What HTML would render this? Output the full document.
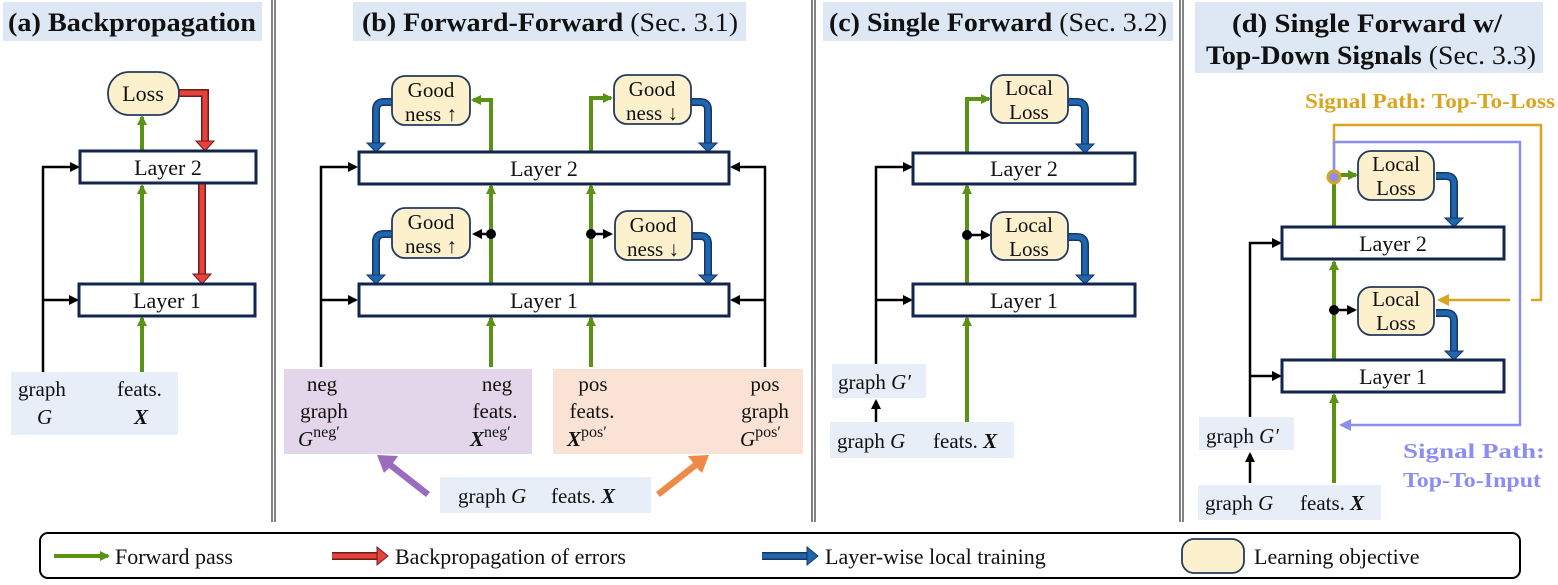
<!DOCTYPE html>
<html><head><meta charset="utf-8"><style>
html,body{margin:0;padding:0;background:#fff}
svg{display:block}
text{font-family:"Liberation Serif",serif;fill:#111}
</style></head><body>
<svg width="1558" height="585" viewBox="0 0 1558 585" xmlns="http://www.w3.org/2000/svg">
<defs>
<marker id="g" markerWidth="10" markerHeight="10" refX="8" refY="5" orient="auto" markerUnits="userSpaceOnUse"><path d="M0,0 L10,5 L0,10 Z" fill="#5a9216"/></marker>
<marker id="k" markerWidth="10" markerHeight="10" refX="8" refY="5" orient="auto" markerUnits="userSpaceOnUse"><path d="M0,0 L10,5 L0,10 Z" fill="#000"/></marker>
<marker id="y" markerWidth="12" markerHeight="12" refX="10" refY="6" orient="auto" markerUnits="userSpaceOnUse"><path d="M0,0 L12,6 L0,12 Z" fill="#d9a520"/></marker>
<marker id="p" markerWidth="12" markerHeight="12" refX="10" refY="6" orient="auto" markerUnits="userSpaceOnUse"><path d="M0,0 L12,6 L0,12 Z" fill="#8b8ef0"/></marker>
</defs>

<g stroke="#333" stroke-width="1.2">
<line x1="272" y1="0" x2="272" y2="522"/><line x1="275" y1="0" x2="275" y2="522"/>
<line x1="812" y1="0" x2="812" y2="522"/><line x1="815" y1="0" x2="815" y2="522"/>
<line x1="1180" y1="0" x2="1180" y2="522"/><line x1="1183" y1="0" x2="1183" y2="522"/>
</g>

<rect x="3" y="2" width="259" height="39" fill="#dde8f4"/>
<text x="8" y="31" font-size="26" font-weight="bold" textLength="248" lengthAdjust="spacingAndGlyphs">(a) Backpropagation</text>
<rect x="353" y="2" width="393" height="39" fill="#dde8f4"/>
<text x="362" y="31" font-size="26" textLength="376" lengthAdjust="spacingAndGlyphs"><tspan font-weight="bold">(b) Forward-Forward</tspan> (Sec. 3.1)</text>
<rect x="823" y="2" width="350" height="39" fill="#dde8f4"/>
<text x="829" y="31" font-size="26" textLength="338" lengthAdjust="spacingAndGlyphs"><tspan font-weight="bold">(c) Single Forward</tspan> (Sec. 3.2)</text>
<rect x="1195" y="2" width="348" height="71" fill="#dde8f4"/>
<text x="1232" y="32" font-size="26" font-weight="bold" textLength="270" lengthAdjust="spacingAndGlyphs">(d) Single Forward w/</text>
<text x="1206" y="64" font-size="26" textLength="330" lengthAdjust="spacingAndGlyphs"><tspan font-weight="bold">Top-Down Signals</tspan> (Sec. 3.3)</text>

<!-- panel a -->
<g fill="none">
<path d="M43,378 V167 H78" stroke="#000" stroke-width="2.5" marker-end="url(#k)"/>
<path d="M43,300 H77" stroke="#000" stroke-width="2.5" marker-end="url(#k)"/>
<path d="M142,372 V318" stroke="#5a9216" stroke-width="4" marker-end="url(#g)"/>
<path d="M142,284 V186" stroke="#5a9216" stroke-width="4" marker-end="url(#g)"/>
<path d="M142,151 V117" stroke="#5a9216" stroke-width="4" marker-end="url(#g)"/>
</g>
<path d="M178,93 H205 V143" fill="none" stroke="#6b1c1c" stroke-width="8"/>
<path d="M178,93 H205 V143" fill="none" stroke="#e8433a" stroke-width="5"/>
<path d="M196,141 L214,141 L205,151 Z" fill="#e8433a" stroke="#6b1c1c" stroke-width="1"/>
<path d="M202,184 V275" fill="none" stroke="#6b1c1c" stroke-width="8"/>
<path d="M202,184 V275" fill="none" stroke="#e8433a" stroke-width="5"/>
<path d="M193,274 L211,274 L202,284 Z" fill="#e8433a" stroke="#6b1c1c" stroke-width="1"/>
<rect x="108" y="72" width="71" height="43" rx="21" fill="#fdf0cc" stroke="#243a5e" stroke-width="1.8"/>
<text x="143" y="101" font-size="22" text-anchor="middle">Loss</text>
<rect x="80" y="151" width="176" height="32" fill="#fff" stroke="#10264d" stroke-width="3"/>
<text x="168" y="175" font-size="22" text-anchor="middle">Layer 2</text>
<rect x="79" y="284" width="176" height="32" fill="#fff" stroke="#10264d" stroke-width="3"/>
<text x="167" y="308" font-size="22" text-anchor="middle">Layer 1</text>
<rect x="11" y="372" width="167" height="63" fill="#e8eef7"/>
<text x="18" y="396" font-size="21">graph</text>
<text x="37" y="424" font-size="21" font-style="italic">G</text>
<text x="117" y="396" font-size="21">feats.</text>
<text x="134" y="424" font-size="21" font-style="italic" font-weight="bold">X</text>

<!-- panel b -->
<rect x="284" y="369" width="248" height="85" fill="#e3d6eb"/>
<rect x="553" y="369" width="250" height="85" fill="#fae3d4"/>
<rect x="440" y="477" width="211" height="36" fill="#e8eef7"/>
<g fill="none">
<path d="M321,367 V167 H356" stroke="#000" stroke-width="2.5" marker-end="url(#k)"/>
<path d="M321,300 H356" stroke="#000" stroke-width="2.5" marker-end="url(#k)"/>
<path d="M765,367 V167 H732" stroke="#000" stroke-width="2.5" marker-end="url(#k)"/>
<path d="M765,300 H732" stroke="#000" stroke-width="2.5" marker-end="url(#k)"/>
<path d="M491,367 V318" stroke="#5a9216" stroke-width="4" marker-end="url(#g)"/>
<path d="M591,367 V318" stroke="#5a9216" stroke-width="4" marker-end="url(#g)"/>
<path d="M491,284 V186" stroke="#5a9216" stroke-width="4" marker-end="url(#g)"/>
<path d="M591,284 V186" stroke="#5a9216" stroke-width="4" marker-end="url(#g)"/>
<path d="M491,151 V100 H473" stroke="#5a9216" stroke-width="4" marker-end="url(#g)"/>
<path d="M591,151 V98 H611" stroke="#5a9216" stroke-width="4" marker-end="url(#g)"/>
<path d="M491,234 H474" stroke="#000" stroke-width="2.5" marker-end="url(#k)"/>
<path d="M591,234 H611" stroke="#000" stroke-width="2.5" marker-end="url(#k)"/>
</g>
<circle cx="491" cy="234" r="5" fill="#000"/>
<circle cx="591" cy="234" r="5" fill="#000"/>
<path d="M430,492 L393,463 L398,456 L377,455 L384,473 L389,468 L426,497 Z" fill="#9b6bbf"/>
<path d="M656,492 L693,463 L688,456 L709,455 L702,473 L697,468 L660,497 Z" fill="#ee8a45"/>
<g fill="none">
<path d="M392,102 H384 Q376,102 376,110 V144" stroke="#17375f" stroke-width="8"/>
<path d="M392,102 H384 Q376,102 376,110 V144" stroke="#1f66b0" stroke-width="5"/>
<path d="M392,234 H384 Q376,234 376,242 V276" stroke="#17375f" stroke-width="8"/>
<path d="M392,234 H384 Q376,234 376,242 V276" stroke="#1f66b0" stroke-width="5"/>
<path d="M690,102 H700 Q708,102 708,110 V144" stroke="#17375f" stroke-width="8"/>
<path d="M690,102 H700 Q708,102 708,110 V144" stroke="#1f66b0" stroke-width="5"/>
<path d="M690,236 H700 Q708,236 708,244 V276" stroke="#17375f" stroke-width="8"/>
<path d="M690,236 H700 Q708,236 708,244 V276" stroke="#1f66b0" stroke-width="5"/>
</g>
<g fill="#1f66b0" stroke="#17375f" stroke-width="1">
<path d="M367,143 L385,143 L376,152 Z"/><path d="M367,275 L385,275 L376,284 Z"/>
<path d="M699,143 L717,143 L708,152 Z"/><path d="M699,275 L717,275 L708,284 Z"/>
</g>
<g fill="#fdf0cc" stroke="#243a5e" stroke-width="1.8">
<rect x="392" y="76" width="78" height="49" rx="13"/>
<rect x="614" y="75" width="77" height="49" rx="13"/>
<rect x="392" y="208" width="78" height="50" rx="13"/>
<rect x="615" y="211" width="77" height="49" rx="13"/>
</g>
<g font-size="21" text-anchor="middle">
<text x="431" y="97">Good</text><text x="431" y="121">ness ↑</text>
<text x="652" y="96">Good</text><text x="652" y="120">ness ↓</text>
<text x="431" y="229">Good</text><text x="431" y="253">ness ↑</text>
<text x="653" y="232">Good</text><text x="653" y="256">ness ↓</text>
</g>
<rect x="359" y="152" width="370" height="32" fill="#fff" stroke="#10264d" stroke-width="3"/>
<text x="544" y="176" font-size="22" text-anchor="middle">Layer 2</text>
<rect x="359" y="284" width="370" height="32" fill="#fff" stroke="#10264d" stroke-width="3"/>
<text x="544" y="308" font-size="22" text-anchor="middle">Layer 1</text>
<g font-size="21">
<text x="322" y="391" text-anchor="middle">neg</text>
<text x="324" y="418" text-anchor="middle">graph</text>
<text x="298" y="446" font-style="italic">G<tspan font-style="normal" font-size="16" dy="-9">neg′</tspan></text>
<text x="497" y="391" text-anchor="middle">neg</text>
<text x="495" y="418" text-anchor="middle">feats.</text>
<text x="470" y="446" font-style="italic" font-weight="bold">X<tspan font-style="normal" font-weight="normal" font-size="16" dy="-9">neg′</tspan></text>
<text x="593" y="391" text-anchor="middle">pos</text>
<text x="592" y="418" text-anchor="middle">feats.</text>
<text x="567" y="446" font-style="italic" font-weight="bold">X<tspan font-style="normal" font-weight="normal" font-size="16" dy="-9">pos′</tspan></text>
<text x="765" y="391" text-anchor="middle">pos</text>
<text x="765" y="418" text-anchor="middle">graph</text>
<text x="740" y="446" font-style="italic">G<tspan font-style="normal" font-size="16" dy="-9">pos′</tspan></text>
<text x="458" y="503">graph <tspan font-style="italic">G</tspan></text>
<text x="551" y="503">feats. <tspan font-style="italic" font-weight="bold">X</tspan></text>
</g>

<!-- panel c -->
<rect x="832" y="364" width="94" height="34" fill="#e8eef7"/>
<rect x="830" y="422" width="184" height="36" fill="#e8eef7"/>
<g fill="none">
<path d="M876,364 V167 H911" stroke="#000" stroke-width="2.5" marker-end="url(#k)"/>
<path d="M876,300 H911" stroke="#000" stroke-width="2.5" marker-end="url(#k)"/>
<path d="M876,422 V401" stroke="#000" stroke-width="2.5" marker-end="url(#k)"/>
<path d="M967,422 V318" stroke="#5a9216" stroke-width="4" marker-end="url(#g)"/>
<path d="M967,284 V186" stroke="#5a9216" stroke-width="4" marker-end="url(#g)"/>
<path d="M967,152 V99 H989" stroke="#5a9216" stroke-width="4" marker-end="url(#g)"/>
<path d="M967,235 H989" stroke="#000" stroke-width="2.5" marker-end="url(#k)"/>
<path d="M1066,102 H1077 Q1085,102 1085,110 V145" stroke="#17375f" stroke-width="8"/>
<path d="M1066,102 H1077 Q1085,102 1085,110 V145" stroke="#1f66b0" stroke-width="5"/>
<path d="M1066,237 H1077 Q1085,237 1085,245 V276" stroke="#17375f" stroke-width="8"/>
<path d="M1066,237 H1077 Q1085,237 1085,245 V276" stroke="#1f66b0" stroke-width="5"/>
</g>
<circle cx="967" cy="235" r="5" fill="#000"/>
<g fill="#1f66b0" stroke="#17375f" stroke-width="1">
<path d="M1076,144 L1094,144 L1085,153 Z"/><path d="M1076,275 L1094,275 L1085,284 Z"/>
</g>
<g fill="#fdf0cc" stroke="#243a5e" stroke-width="1.8">
<rect x="991" y="75" width="77" height="48" rx="13"/>
<rect x="991" y="212" width="77" height="48" rx="13"/>
</g>
<g font-size="21" text-anchor="middle">
<text x="1029" y="95">Local</text><text x="1029" y="119">Loss</text>
<text x="1029" y="232">Local</text><text x="1029" y="256">Loss</text>
</g>
<rect x="913" y="153" width="222" height="31" fill="#fff" stroke="#10264d" stroke-width="3"/>
<text x="1024" y="176" font-size="22" text-anchor="middle">Layer 2</text>
<rect x="913" y="284" width="222" height="32" fill="#fff" stroke="#10264d" stroke-width="3"/>
<text x="1024" y="308" font-size="22" text-anchor="middle">Layer 1</text>
<g font-size="21">
<text x="838" y="389">graph <tspan font-style="italic">G′</tspan></text>
<text x="837" y="448">graph <tspan font-style="italic">G</tspan></text>
<text x="933" y="448">feats. <tspan font-style="italic" font-weight="bold">X</tspan></text>
</g>

<!-- panel d -->
<text x="1305" y="108" font-size="21" font-weight="bold" style="fill:#d9a520" textLength="250" lengthAdjust="spacingAndGlyphs">Signal Path: Top-To-Loss</text>
<rect x="1199" y="417" width="95" height="33" fill="#e8eef7"/>
<rect x="1198" y="485" width="183" height="35" fill="#e8eef7"/>
<g fill="none">
<path d="M1334,177 V125 H1541 V300 H1531" stroke="#d9a520" stroke-width="2.5"/>
<path d="M1510,300 H1439" stroke="#d9a520" stroke-width="2.5" marker-end="url(#y)"/>
<path d="M1334,177 V142 H1520 V425 H1341" stroke="#8b8ef0" stroke-width="2.5" marker-end="url(#p)"/>
<path d="M1250,417 V243 H1280" stroke="#000" stroke-width="2.5" marker-end="url(#k)"/>
<path d="M1250,376 H1280" stroke="#000" stroke-width="2.5" marker-end="url(#k)"/>
<path d="M1250,483 V454" stroke="#000" stroke-width="2.5" marker-end="url(#k)"/>
<path d="M1334,483 V395" stroke="#5a9216" stroke-width="4" marker-end="url(#g)"/>
<path d="M1334,360 V262" stroke="#5a9216" stroke-width="4" marker-end="url(#g)"/>
<path d="M1334,227 V177" stroke="#5a9216" stroke-width="4"/>
<path d="M1338,175 H1356" stroke="#5a9216" stroke-width="4" marker-end="url(#g)"/>
<path d="M1334,310 H1355" stroke="#000" stroke-width="2.5" marker-end="url(#k)"/>
<path d="M1436,176 H1446 Q1454,176 1454,184 V219" stroke="#17375f" stroke-width="8"/>
<path d="M1436,176 H1446 Q1454,176 1454,184 V219" stroke="#1f66b0" stroke-width="5"/>
<path d="M1436,313 H1446 Q1454,313 1454,321 V352" stroke="#17375f" stroke-width="8"/>
<path d="M1436,313 H1446 Q1454,313 1454,321 V352" stroke="#1f66b0" stroke-width="5"/>
</g>
<circle cx="1334" cy="177" r="6" fill="#8b8ef0" stroke="#d9a520" stroke-width="3"/>
<circle cx="1334" cy="310" r="5" fill="#000"/>
<g fill="#1f66b0" stroke="#17375f" stroke-width="1">
<path d="M1445,218 L1463,218 L1454,227 Z"/><path d="M1445,351 L1463,351 L1454,360 Z"/>
</g>
<g fill="#fdf0cc" stroke="#243a5e" stroke-width="1.8">
<rect x="1358" y="151" width="76" height="49" rx="13"/>
<rect x="1358" y="287" width="76" height="48" rx="13"/>
</g>
<g font-size="21" text-anchor="middle">
<text x="1396" y="171">Local</text><text x="1396" y="195">Loss</text>
<text x="1396" y="306">Local</text><text x="1396" y="330">Loss</text>
</g>
<rect x="1282" y="227" width="222" height="32" fill="#fff" stroke="#10264d" stroke-width="3"/>
<text x="1393" y="251" font-size="22" text-anchor="middle">Layer 2</text>
<rect x="1282" y="360" width="222" height="32" fill="#fff" stroke="#10264d" stroke-width="3"/>
<text x="1393" y="384" font-size="22" text-anchor="middle">Layer 1</text>
<text x="1403" y="458" font-size="21" font-weight="bold" style="fill:#8b8ef0" textLength="142" lengthAdjust="spacingAndGlyphs">Signal Path:</text>
<text x="1403" y="487" font-size="21" font-weight="bold" style="fill:#8b8ef0" textLength="138" lengthAdjust="spacingAndGlyphs">Top-To-Input</text>
<g font-size="21">
<text x="1206" y="443">graph <tspan font-style="italic">G′</tspan></text>
<text x="1205" y="510">graph <tspan font-style="italic">G</tspan></text>
<text x="1300" y="510">feats. <tspan font-style="italic" font-weight="bold">X</tspan></text>
</g>

<!-- legend -->
<rect x="40" y="533" width="1480" height="45" rx="8" fill="#fff" stroke="#000" stroke-width="2"/>
<path d="M54,556 H108" stroke="#5a9216" stroke-width="4" marker-end="url(#g)" fill="none"/>
<text x="115" y="564" font-size="22">Forward pass</text>
<path d="M332,556 H378" stroke="#6b1c1c" stroke-width="8" fill="none"/>
<path d="M332,556 H378" stroke="#e8433a" stroke-width="5" fill="none"/>
<path d="M377,547 L388,556 L377,565 Z" fill="#e8433a" stroke="#6b1c1c"/>
<text x="395" y="564" font-size="22">Backpropagation of errors</text>
<path d="M762,556 H808" stroke="#17375f" stroke-width="8" fill="none"/>
<path d="M762,556 H808" stroke="#1f66b0" stroke-width="5" fill="none"/>
<path d="M807,547 L818,556 L807,565 Z" fill="#1f66b0" stroke="#17375f"/>
<text x="825" y="564" font-size="22">Layer-wise local training</text>
<rect x="1182" y="539" width="62" height="34" rx="12" fill="#fdf0cc" stroke="#243a5e" stroke-width="1.8"/>
<text x="1254" y="564" font-size="22">Learning objective</text>
</svg>
</body></html>
